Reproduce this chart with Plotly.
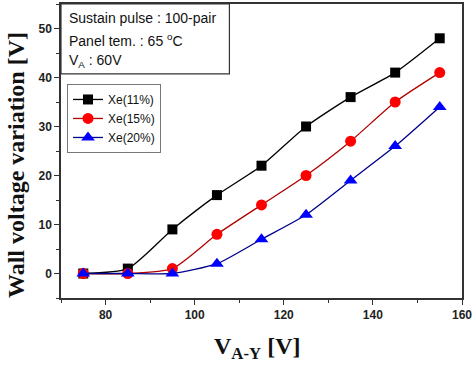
import plotly.graph_objects as go

x_vals = [75, 85, 95, 105, 115, 125, 135, 145, 155]
xe11 = [0, 1, 9, 16, 22, 30, 36, 41, 48]
xe15 = [0, 0, 1, 8, 14, 20, 27, 35, 41]
xe20 = [0, 0, 0, 2, 7, 12, 19, 26, 34]
names = ["Xe(11%)", "Xe(15%)", "Xe(20%)"]
colors = ["#000000", "#ff0000", "#0000ff"]
line_colors = ["#000000", "#b00000", "#00008b"]
symbols = ["square", "circle", "triangle-up"]
sizes = [10, 11, 12]

fig = go.Figure()
for ys, n, c, lc, s, sz in zip([xe11, xe15, xe20], names, colors, line_colors, symbols, sizes):
    fig.add_trace(go.Scatter(
        x=x_vals, y=ys, name=n, mode="lines+markers",
        line=dict(color=lc, width=1.3, shape="spline", smoothing=0.6),
        marker=dict(symbol=s, size=sz, color=c, line=dict(width=0)),
    ))

axis_common = dict(
    showline=True, linecolor="#333", linewidth=1.5, mirror=True,
    ticks="outside", ticklen=5, tickcolor="#333", tickwidth=1.2,
    showgrid=False, zeroline=False, automargin=False,
    tickfont=dict(family="Arial", size=12, color="#222", weight="bold"),
)
fig.update_xaxes(range=[70, 160], tickvals=[80, 100, 120, 140, 160],
                 minor=dict(ticks="outside", ticklen=3, dtick=10, tick0=70, tickcolor="#333"),
                 **axis_common)
fig.update_yaxes(range=[-5, 55], tickvals=[0, 10, 20, 30, 40, 50],
                 minor=dict(ticks="outside", ticklen=3, dtick=5, tick0=0, tickcolor="#333"),
                 **axis_common)

# axis titles as annotations
fig.add_annotation(xref="paper", yref="paper", x=(16 - 61) / 401, y=1 - (165 - 4) / 294,
                   text="<b>Wall voltage variation [V]</b>", textangle=-90, showarrow=False,
                   xanchor="center", yanchor="middle",
                   font=dict(family="Times New Roman, Liberation Serif", size=24, color="#111"))
fig.add_annotation(xref="paper", yref="paper", x=(257 - 61) / 401, y=1 - (348 - 4) / 294,
                   text="<b>V<sub>A-Y</sub> [V]</b>", showarrow=False,
                   xanchor="center", yanchor="middle",
                   font=dict(family="Times New Roman, Liberation Serif", size=24, color="#111"))

# info box
fig.add_shape(type="rect", xref="paper", yref="paper", x0=0, x1=0.42, y0=0.762, y1=1.0,
              line=dict(color="#333", width=1.2), fillcolor="white")
info = ["Sustain pulse : 100-pair", "Panel tem. : 65 <sup>o</sup>C", "V<sub>A</sub> : 60V"]
info_y = [18, 40, 61]
for t, py in zip(info, info_y):
    fig.add_annotation(xref="paper", yref="paper", x=0.015, y=1 - (py - 4) / 294,
                       text=t, showarrow=False, xanchor="left", yanchor="middle",
                       font=dict(family="Arial", size=14, color="#111"))

fig.update_layout(
    width=474, height=366,
    margin=dict(l=61, r=12, t=4, b=68),
    paper_bgcolor="white", plot_bgcolor="white",
    legend=dict(x=0.015, y=0.728, xanchor="left", yanchor="top",
                bordercolor="#777", borderwidth=1, bgcolor="white",
                font=dict(family="Arial", size=12, color="#111"),
                itemwidth=30, tracegroupgap=0),
    showlegend=True,
)
fig.write_html("out.html", config={"displayModeBar": False},
               post_script="document.body.style.margin='0';")
